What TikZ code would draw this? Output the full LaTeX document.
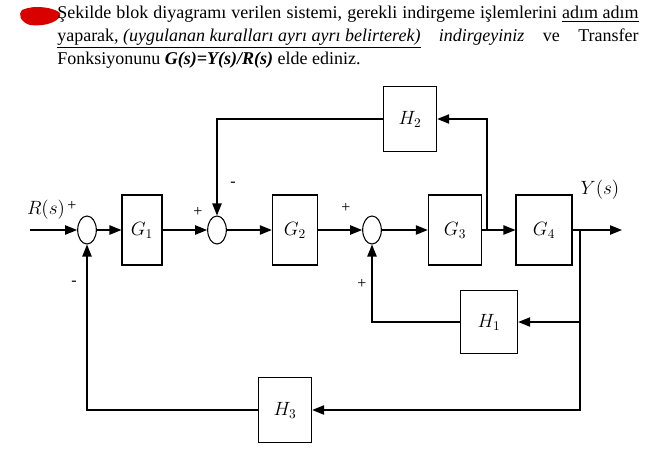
\documentclass[tikz,border=0pt]{standalone}
\usepackage{fontspec}
\setmainfont{Liberation Serif}
\usetikzlibrary{arrows.meta,shapes.geometric}
\begin{document}
\begin{tikzpicture}[x=0.75pt,y=-0.75pt,
  blk/.style={draw,line width=0.8pt,minimum width=#1,minimum height=52.5pt,inner sep=0pt,font=\Large},
  sum/.style={draw,ellipse,line width=0.8pt,minimum width=14pt,minimum height=21pt,inner sep=0pt},
  ar/.style={-{Triangle[length=9pt,width=7pt]},line width=1pt},
  sg/.style={font=\large}]
\useasboundingbox (0,0) rectangle (650,465);
\fill[red!85!black] (22,10) .. controls (35,4) and (55,8) .. (60,13) .. controls (62,20) and (48,27) .. (30,25) .. controls (20,22) and (18,14) .. (22,10);
\node[anchor=north west,text width=436pt,align=justify,inner sep=0pt,font=\fontsize{13.5}{17}\selectfont] (txt) at (57,6)
 {Şekilde blok diyagramı verilen sistemi, gerekli indirgeme işlemlerini \underline{adım adım}\linebreak
 \underline{yaparak, \textit{(uygulanan kuralları ayrı ayrı belirterek)}} \textit{indirgeyiniz} ve Transfer\linebreak
 Fonksiyonunu \textbf{\textit{G(s)=Y(s)/R(s)}} elde ediniz.};
% nodes
\coordinate (in) at (30,230);
\node[sum] (s1) at (87,230) {};
\node[blk=30pt] (g1) at (142,230) {$G_1$};
\node[sum] (s2) at (217,230) {};
\node[blk=34pt] (g2) at (295,230) {$G_2$};
\node[sum] (s3) at (372,230) {};
\node[blk=40pt] (g3) at (455,230) {$G_3$};
\node[blk=42pt] (g4) at (544,230) {$G_4$};
\coordinate (out) at (622,230);
\node[blk=40pt,minimum height=49pt] (h2) at (410,119) {$H_2$};
\node[blk=43pt,minimum height=47pt] (h1) at (489,322) {$H_1$};
\node[blk=40pt,minimum height=49pt] (h3) at (285,410) {$H_3$};
\coordinate (b1) at (487,230);
\coordinate (b2) at (580,230);
% labels
\node[font=\Large] (rs) at (46,210) {$R(s)$};
\node[font=\Large] (ys) at (600,190) {$Y(s)$};
\node[sg] (p1) at (72,206) {+};
\node[sg] (m1) at (74,283) {-};
\node[sg] (p2) at (198,212) {+};
\node[sg] (m2) at (233,184) {-};
\node[sg] (p3) at (346,208) {+};
\node[sg] (p4) at (362,284) {+};
% forward path
\draw[ar] (in) -- (s1);
\draw[ar] (s1) -- (g1);
\draw[ar] (g1) -- (s2);
\draw[ar] (s2) -- (g2);
\draw[ar] (g2) -- (s3);
\draw[ar] (s3) -- (g3);
\draw[ar] (g3) -- (g4);
\draw[ar] (g4) -- (out);
% feedbacks
\draw[ar] (b1) |- (h2.east);
\draw[ar] (h2.west) -| (s2.north);
\draw[ar] (b2) |- (h1.east);
\draw[ar] (h1.west) -| (s3.south);
\draw[ar] (b2) |- (h3.east);
\draw[ar] (h3.west) -| (s1.south);
\end{tikzpicture}
\end{document}
